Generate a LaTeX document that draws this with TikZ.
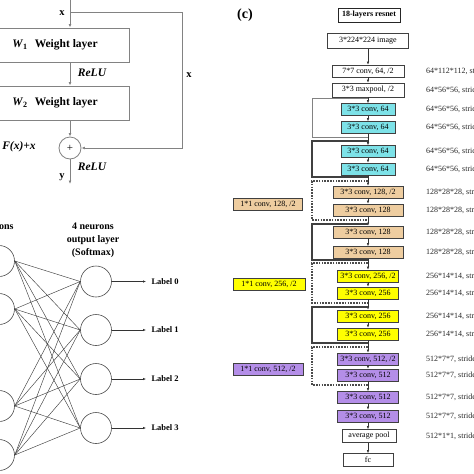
\documentclass[tikz,border=0pt]{standalone}
\usepackage{fontspec}
\setmainfont{Liberation Serif}
\usetikzlibrary{arrows.meta,calc}
\definecolor{cyanbox}{RGB}{125,226,232}
\definecolor{tanbox}{RGB}{238,205,160}
\definecolor{yelbox}{RGB}{255,255,0}
\definecolor{purbox}{RGB}{180,142,232}
\definecolor{lgray}{RGB}{130,130,130}
\tikzset{
  arr/.style={-{Latex[length=3pt,width=2.4pt]}, draw=black!80, line width=0.5pt},
  garr/.style={-{Latex[length=3.5pt,width=2.8pt]}, draw=lgray, line width=0.9pt},
  gline/.style={draw=lgray, line width=0.9pt},
  abox/.style={draw=lgray, line width=0.9pt, minimum height=34pt, inner sep=0pt},
  atext/.style={font=\fontsize{11.5}{13}\selectfont\bfseries},
  itext/.style={font=\fontsize{11.5}{13}\selectfont\bfseries\itshape},
  vtext/.style={font=\fontsize{10.5}{12}\selectfont\bfseries},
  neuron/.style={circle, draw=black!70, line width=0.6pt, minimum size=31pt, inner sep=0pt},
  syn/.style={draw=black!75, line width=0.45pt},
  lbl/.style={font=\fontsize{8.5}{10}\selectfont\bfseries, anchor=west},
  hdr/.style={font=\fontsize{10}{13}\selectfont\bfseries, align=center},
  cbox/.style={draw=black!75, line width=0.6pt, minimum height=12pt, inner sep=0pt, font=\fontsize{8}{8}\selectfont},
  cyb/.style={cbox, fill=cyanbox, minimum width=54pt},
  tnb/.style={cbox, fill=tanbox, minimum width=70pt},
  ylb/.style={cbox, fill=yelbox, minimum width=61pt},
  ppb/.style={cbox, fill=purbox, minimum width=61pt},
  wtb/.style={cbox, fill=white},
  rlab/.style={font=\fontsize{8}{9}\selectfont, anchor=west, text=black!85, inner sep=0pt},
  skipthin/.style={draw=lgray, line width=0.7pt},
  skipthick/.style={draw=black!75, line width=1.1pt},
  skipdash/.style={draw=black!70, line width=1.1pt, dash pattern=on 1.6pt off 1.2pt},
}
\begin{document}
\begin{tikzpicture}[x=1pt,y=-1pt]
\useasboundingbox (0,0) rectangle (474,474);
\clip (0,0) rectangle (474,474);
\fill[white] (0,0) rectangle (474,474);

% ---------------- panel (a)
\node[abox, minimum width=134pt] (w1) at (62,45) {};
\node[atext] (w1t) at (55,45) {\textit{W}\textsubscript{1}\hspace{7pt}Weight layer};
\node[abox, minimum width=134pt] (w2) at (62,103) {};
\node[atext] (w2t) at (55,103) {\textit{W}\textsubscript{2}\hspace{7pt}Weight layer};
\node[circle, draw=lgray, line width=0.8pt, minimum size=22pt, inner sep=0pt, font=\fontsize{11}{11}\selectfont] (plus) at (70,148) {+};
\coordinate (xin) at (70,0);
\coordinate (xbr) at (70,12);
\coordinate (xr) at (182,12);
\coordinate (yout) at (70,184);
\draw[garr] (xin) -- (w1.north -| xin);
\draw[garr] (w1.south -| xin) -- (w2.north -| xin);
\draw[garr] (w2.south -| xin) -- (plus.north);
\draw[gline] (xbr) -- (xr);
\draw[garr] (xr) |- (plus.east);
\draw[garr] (plus.south) -- (yout);
\node[vtext] (xl) at (62,13) {x};
\node[vtext] (xl2) at (189,75) {x};
\node[itext] (relu1) at (92,73) {ReLU};
\node[itext] (fx) at (19,147) {F(x)+x};
\node[itext] (relu2) at (92,167) {ReLU};
\node[vtext] (yl) at (62,177) {y};

% ---------------- panel (b)
\node[hdr, anchor=east] (inh) at (17,227) {neurons};
\node[hdr] (outh) at (93,240) {4 neurons\\output layer\\(Softmax)};
\foreach \i/\y in {1/261,2/309,3/406,4/455} {
  \node[neuron] (in\i) at (-1,\y) {};
}
\foreach \j/\y in {0/281.5,1/330,2/379,3/428} {
  \node[neuron] (out\j) at (96,\y) {};
  \coordinate (lab\j) at (146,\y);
  \draw[arr] (out\j.east) -- (lab\j);
  \node[lbl] (lt\j) at (148,\y) {Label \j};
}
\foreach \i in {1,2,3,4} {
  \foreach \j in {0,1,2,3} {
    \draw[syn] (in\i.east) -- (out\j.west);
  }
}

% ---------------- panel (c)
\node[font=\fontsize{14}{16}\selectfont\bfseries] (clab) at (245,15) {(c)};
\node[draw=black!85, line width=0.9pt, minimum width=62pt, minimum height=14pt, inner sep=0pt, font=\fontsize{8}{8}\selectfont\bfseries] (title) at (369,15) {18-layers resnet};

\node[wtb, minimum width=81pt, minimum height=15pt] (img) at (368,41) {3*224*224 image};
\node[wtb, minimum width=72pt] (c7) at (368,71) {7*7 conv, 64, /2};
\node[wtb, minimum width=72pt, minimum height=14pt] (mp) at (368,90) {3*3 maxpool, /2};
\node[cyb] (a1) at (368,109.5) {3*3 conv, 64};
\node[cyb] (a2) at (368,127.5) {3*3 conv, 64};
\node[cyb] (a3) at (368,151.5) {3*3 conv, 64};
\node[cyb] (a4) at (368,169) {3*3 conv, 64};
\node[tnb] (b1) at (368,192) {3*3 conv, 128, /2};
\node[tnb] (b2) at (368,210) {3*3 conv, 128};
\node[tnb] (b3) at (368,232) {3*3 conv, 128};
\node[tnb] (b4) at (368,252.5) {3*3 conv, 128};
\node[ylb] (c1) at (368,276) {3*3 conv, 256, /2};
\node[ylb] (c2) at (368,293) {3*3 conv, 256};
\node[ylb] (c3) at (368,316) {3*3 conv, 256};
\node[ylb] (c4) at (368,334) {3*3 conv, 256};
\node[ppb] (d1) at (368,359) {3*3 conv, 512, /2};
\node[ppb] (d2) at (368,375) {3*3 conv, 512};
\node[ppb] (d3) at (368,397.5) {3*3 conv, 512};
\node[ppb] (d4) at (368,416) {3*3 conv, 512};
\node[wtb, minimum width=54pt, minimum height=13pt] (ap) at (369,436) {average pool};
\node[wtb, minimum width=50pt, minimum height=13pt] (fc) at (368,460) {fc};

\foreach \a/\b in {img/c7,c7/mp,mp/a1,a1/a2,a2/a3,a3/a4,a4/b1,b1/b2,b2/b3,b3/b4,b4/c1,c1/c2,c2/c3,c3/c4,c4/d1,d1/d2,d2/d3,d3/d4,d4/ap,ap/fc} {
  \draw[arr] (\a.south -| img.south) -- (\b.north -| img.south);
}

\node[tnb, minimum width=69pt] (p1) at (268,204) {1*1 conv, 128, /2};
\node[ylb, minimum width=72pt] (p2) at (269,284) {1*1 conv, 256, /2};
\node[ppb, minimum width=70pt] (p3) at (268,369) {1*1 conv, 512, /2};

% skip brackets
\foreach \n/\t/\b in {s1/98/137,s2/141/177,s3/181/220,s4/224/260,s5/263/303,s6/307/343,s7/347/385} {
  \coordinate (\n a) at (368,\t);
  \coordinate (\n b) at (312,\b);
  \coordinate (\n c) at (368,\b);
}
\draw[skipthin] (s1a) -| (s1b) -- (s1c);
\draw[skipthick] (s2a) -| (s2b) -- (s2c);
\draw[skipdash] (s3a) -| (s3b) -- (s3c);
\draw[skipthick] (s4a) -| (s4b) -- (s4c);
\draw[skipdash] (s5a) -| (s5b) -- (s5c);
\draw[skipthick] (s6a) -| (s6b) -- (s6c);
\draw[skipdash] (s7a) -| (s7b) -- (s7c);

% right-hand labels
\node[rlab] (r1) at (426,71) {64*112*112, stride 2};
\node[rlab] (r2) at (426,90) {64*56*56, stride 2};
\foreach \k/\y in {3/109.5,4/127.5,5/151.5,6/169} {\node[rlab] (r\k) at (426,\y) {64*56*56, stride 1};}
\node[rlab] (r7) at (426,192) {128*28*28, stride 2};
\foreach \k/\y in {8/210,9/232,10/252.5} {\node[rlab] (r\k) at (426,\y) {128*28*28, stride 1};}
\node[rlab] (r11) at (426,276) {256*14*14, stride 2};
\foreach \k/\y in {12/293,13/316,14/334} {\node[rlab] (r\k) at (426,\y) {256*14*14, stride 1};}
\node[rlab] (r15) at (426,359) {512*7*7, stride 2};
\foreach \k/\y in {16/375,17/397.5,18/416} {\node[rlab] (r\k) at (426,\y) {512*7*7, stride 1};}
\node[rlab] (r19) at (426,436) {512*1*1, stride 1};
\end{tikzpicture}
\end{document}
